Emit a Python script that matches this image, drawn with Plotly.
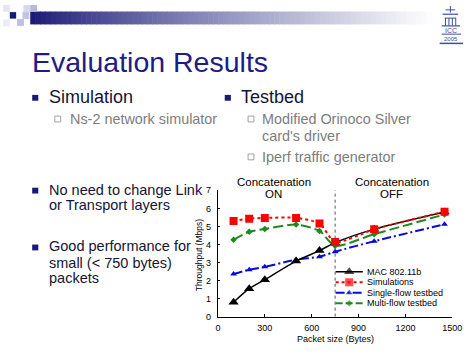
import plotly.graph_objects as go

W, H = 474, 355
FONT = "Liberation Sans, Arial, sans-serif"

# ---------------- data ----------------
packet_size = [100, 200, 300, 500, 650, 750, 1000, 1450]
mac_80211b = [0.80, 1.55, 2.05, 3.08, 3.66, 4.10, 4.85, 5.80]
simulations = [5.30, 5.43, 5.47, 5.47, 5.16, 4.14, 4.84, 5.82]
single_flow = [2.36, 2.60, 2.76, 3.16, 3.32, 3.60, 4.18, 5.12]
multi_flow = [4.26, 4.70, 4.86, 5.10, 4.75, 3.93, 4.57, 5.66]
series_names = ["MAC 802.11b", "Simulations", "Single-flow testbed", "Multi-flow testbed"]
x_ticks = [0, 300, 600, 900, 1200, 1500]
y_ticks = [0, 1, 2, 3, 4, 5, 6, 7]
concat_boundary = 750

# ---------------- styles ----------------
styles = {
    "MAC 802.11b": dict(color="#000000", dash="solid", width=1.5, symbol="triangle-up", msize=9),
    "Simulations": dict(color="#ff0000", dash="dot", width=2, symbol="square", msize=8),
    "Single-flow testbed": dict(color="#0a0ad8", dash="9px,3px,2px,3px", width=2, symbol="triangle-up", msize=6),
    "Multi-flow testbed": dict(color="#1e8a1e", dash="10px,4px", width=2, symbol="diamond", msize=5),
}
values = {
    "MAC 802.11b": mac_80211b,
    "Simulations": simulations,
    "Single-flow testbed": single_flow,
    "Multi-flow testbed": multi_flow,
}

fig = go.Figure()
for name in ["Single-flow testbed", "Multi-flow testbed", "MAC 802.11b", "Simulations"]:
    st = styles[name]
    fig.add_trace(go.Scatter(
        x=packet_size, y=values[name], name=name, mode="lines+markers",
        line=dict(color=st["color"], dash=st["dash"], width=st["width"], shape="spline", smoothing=0.7),
        marker=dict(symbol=st["symbol"], size=st["msize"], color=st["color"], line=dict(width=0)),
        showlegend=False, xaxis="x", yaxis="y",
    ))

# ---------------- manual compact legend on a pixel overlay axis ----------------
LEG_X0, LEG_X1, LEG_TX, LEG_Y0, LEG_DY = 342, 370, 373, 274.5, 10.8
annotations = []
for i, name in enumerate(series_names):
    st = styles[name]
    yy = LEG_Y0 + i * LEG_DY
    fig.add_trace(go.Scatter(
        x=[LEG_X0, (LEG_X0 + LEG_X1) / 2, LEG_X1], y=[yy, yy, yy], mode="lines+markers",
        line=dict(color=st["color"], dash=st["dash"] if st["dash"] != "10px,4px" else "7px,3px", width=st["width"]),
        marker=dict(symbol=st["symbol"], size=[0, st["msize"], 0], color=st["color"], line=dict(width=0)),
        showlegend=False, hoverinfo="skip", xaxis="x2", yaxis="y2",
    ))
    annotations.append(dict(x=LEG_TX, y=yy, xref="x2", yref="y2", text=name, showarrow=False,
                            xanchor="left", yanchor="middle", borderpad=0,
                            font=dict(family=FONT, size=9, color="#000000")))


def txt(px, py, s, size, color, xanchor="left"):
    annotations.append(dict(x=px / W, y=1 - py / H, xref="paper", yref="paper", text=s,
                            showarrow=False, xanchor=xanchor, yanchor="middle", borderpad=0,
                            font=dict(family=FONT, size=size, color=color)))


NAVY = "#1c1c84"
DARK = "#141436"
GRAY = "#7d7d7d"

txt(29, 59, "Evaluation Results", 28.5, NAVY)
txt(46, 95, "Simulation", 18, DARK)
txt(244, 95, "Testbed", 18, DARK)
txt(67.5, 117.5, "Ns-2 network simulator", 14.4, GRAY)
txt(265, 117.5, "Modified Orinoco Silver", 14.4, GRAY)
txt(265, 134.5, "card's driver", 14.4, GRAY)
txt(265, 156, "Iperf traffic generator", 14.4, GRAY)
txt(46, 190, "No need to change Link", 14.5, DARK)
txt(46, 205.5, "or Transport layers", 14.5, DARK)
txt(46, 248.5, "Good performance for", 14.5, DARK)
txt(46, 265, "small (&lt; 750 bytes)", 14.5, DARK)
txt(46, 281, "packets", 14.5, DARK)

# chart labels
txt(278.5, 182, "Concatenation", 11.5, "#000000", "center")
txt(278.5, 194.5, "ON", 11.5, "#000000", "center")
txt(399.5, 182, "Concatenation", 11.5, "#000000", "center")
txt(399.5, 194.5, "OFF", 11.5, "#000000", "center")
txt(341.5, 344, "Packet size (Bytes)", 9, "#000000", "center")
annotations.append(dict(x=201.5 / W, y=1 - 257.5 / H, xref="paper", yref="paper", text="Throughput (Mbps)",
                        showarrow=False, textangle=-90, xanchor="center", yanchor="middle", borderpad=0,
                        font=dict(family=FONT, size=8.5, color="#000000")))

# ICC logo text
txt(461, 26, "ICC", 7, "#3a4fa0", "center")
txt(461, 34.5, "2005", 6, "#3a4fa0", "center")

# ---------------- shapes (slide decoration) ----------------
shapes = []


def rect(x0, y0, x1, y1, color, line=None):
    shapes.append(dict(type="rect", xref="paper", yref="paper", x0=x0 / W, x1=x1 / W,
                       y0=1 - y1 / H, y1=1 - y0 / H, fillcolor=color,
                       line=dict(width=0) if line is None else line, layer="below"))


# gradient banner
n_seg = 80
bx0, bx1 = 28, 446
c0 = (26, 26, 120)
for k in range(n_seg):
    t = k / (n_seg - 1)
    col = tuple(int(round(c0[j] + (255 - c0[j]) * t ** 0.85)) for j in range(3))
    xa = bx0 + (bx1 - bx0) * k / n_seg
    xb = bx0 + (bx1 - bx0) * (k + 1) / n_seg + 0.6
    rect(xa, 6.7, xb, 20, "rgb(%d,%d,%d)" % col)

# checker squares top-left
rect(0, 0, 7, 7, "#e6e6f2")
rect(7, 7.3, 13.5, 14, "#1a1a78")
rect(21, 0, 28, 7, "#d8d8ec")
rect(28, 0, 35, 7, "#b8b8dc")
rect(20, 7, 27, 14.5, "#c4c4e2")
rect(14.5, 14.5, 21.5, 21.5, "#c0c0e0")
rect(0, 15, 7, 22, "#ececf6")

# bullets (filled navy squares)
for (bx, by) in [(30, 92.5), (228, 92.5), (30, 188), (30, 246.5)]:
    rect(bx, by, bx + 6.3, by + 6, "#1a1a78")
# hollow sub-bullets
for (bx, by) in [(53.3, 114.3), (252, 114.3), (252, 153.3)]:
    rect(bx, by, bx + 6, by + 6, "rgba(0,0,0,0)", line=dict(color="#8a8a8a", width=0.8))

# pagoda logo (lines)
LOGO = "#3a4fa0"


def seg(x0, y0, x1, y1, w=1):
    shapes.append(dict(type="line", xref="paper", yref="paper", x0=x0 / W, x1=x1 / W,
                       y0=1 - y0 / H, y1=1 - y1 / H, line=dict(color=LOGO, width=w)))


seg(460, 1, 460, 8, 1)
seg(455, 5, 465, 5, 1)
seg(452, 9.5, 468, 9.5, 1.2)
seg(454, 13.5, 466, 13.5, 1)
seg(455, 13.5, 455, 21, 1)
seg(458.5, 13.5, 458.5, 21, 1)
seg(462, 13.5, 462, 21, 1)
seg(465.5, 13.5, 465.5, 21, 1)
seg(451, 21.5, 470, 21.5, 1.2)
seg(451, 30, 471, 30, 1)
seg(449, 39.5, 473, 39.5, 1.5)

# concatenation boundary
shapes.append(dict(type="line", xref="x", yref="y", x0=concat_boundary, x1=concat_boundary,
                   y0=0, y1=7.3, line=dict(color="#555555", width=1, dash="dot")))

fig.update_layout(
    width=W, height=H, margin=dict(l=0, r=0, t=0, b=0),
    paper_bgcolor="white", plot_bgcolor="rgba(0,0,0,0)",
    showlegend=False,
    xaxis=dict(domain=[221 / W, 462 / W], range=[0, 1500], tickvals=x_ticks,
               ticks="inside", ticklen=3, tickcolor="#000", showline=True, linecolor="#000", linewidth=1,
               showgrid=False, zeroline=False, ticklabelstandoff=3,
               tickfont=dict(family=FONT, size=9, color="#000"), anchor="y", fixedrange=True),
    yaxis=dict(domain=[1 - 320.7 / H, 1 - 190.7 / H], range=[0, 7], tickvals=y_ticks,
               ticks="inside", ticklen=2, tickcolor="#000", showline=True, linecolor="#000", linewidth=1,
               showgrid=False, zeroline=False, ticklabelstandoff=4,
               tickfont=dict(family=FONT, size=9, color="#000"), anchor="x", fixedrange=True),
    xaxis2=dict(domain=[0, 1], range=[0, W], visible=False, anchor="y2", fixedrange=True),
    yaxis2=dict(domain=[0, 1], range=[H, 0], visible=False, anchor="x2", fixedrange=True),
    annotations=annotations,
    shapes=shapes,
)

fig.write_html(
    "out.html",
    config={"displayModeBar": False, "staticPlot": True},
    post_script="document.body.style.margin='0';document.body.style.padding='0';document.body.style.overflow='hidden';",
)
